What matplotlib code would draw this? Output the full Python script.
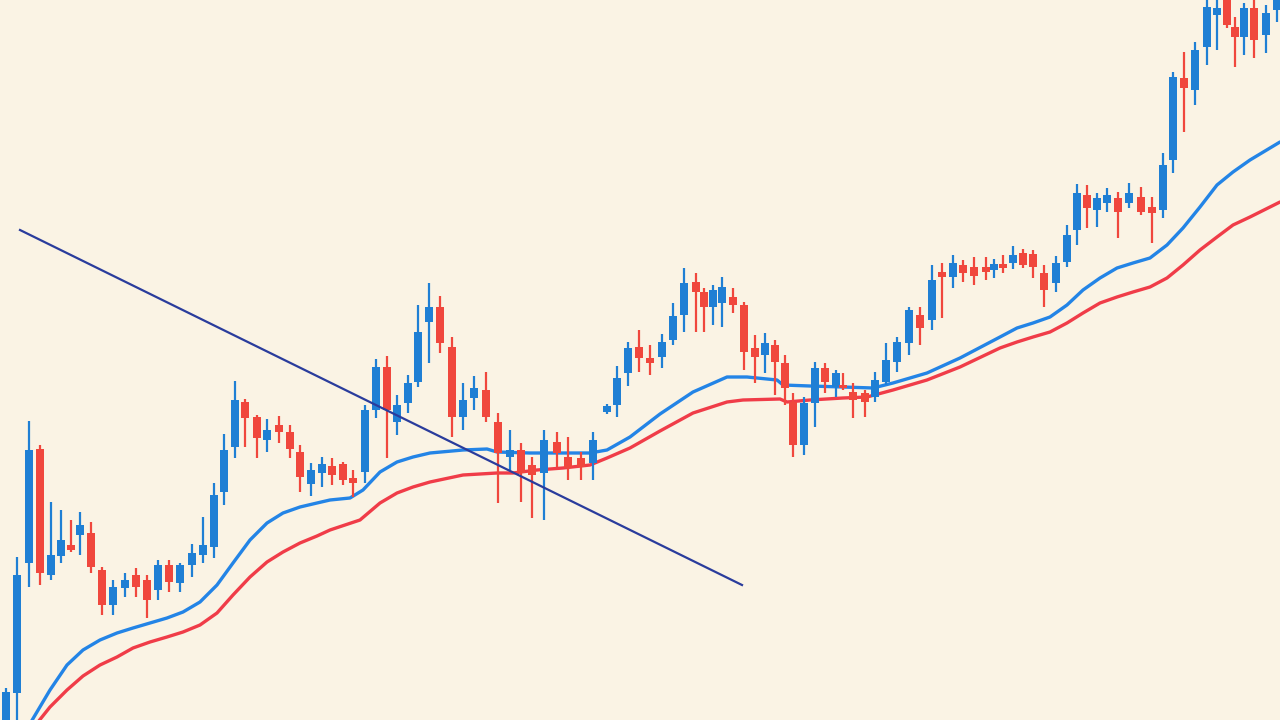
import numpy as np
import matplotlib
matplotlib.use('Agg')
import matplotlib.pyplot as plt

# candle positions (time axis) and OHLC prices
t = [6, 17, 29, 40, 51, 61, 71, 80, 91, 102, 113, 125, 136, 147, 158, 169, 180, 192, 203, 214,
     224, 235, 245, 257, 267, 279, 290, 300, 311, 322, 332, 343, 353, 365, 376, 387, 397, 408, 418, 429,
     440, 452, 463, 474, 486, 498, 510, 521, 532, 544, 557, 568, 581, 593, 607, 617, 628, 639, 650, 662,
     673, 684, 696, 704, 713, 722, 733, 744, 755, 765, 775, 785, 793, 804, 815, 825, 836, 843, 853, 865,
     875, 886, 897, 909, 920, 932, 942, 953, 963, 974, 986, 994, 1003, 1013, 1023, 1033, 1044, 1056, 1067, 1077,
     1087, 1097, 1107, 1118, 1129, 1141, 1152, 1163, 1173, 1184, 1195, 1207, 1217, 1227, 1235, 1244, 1254, 1266, 1277]
opens = [0, 27, 157, 271, 145, 164, 175, 185, 187, 150, 115, 132, 145, 140, 130, 155, 137, 155, 165, 173,
         228, 273, 318, 303, 280, 295, 288, 268, 236, 247, 254, 256, 242, 248, 310, 353, 298, 317, 338, 398,
         413, 373, 303, 322, 330, 298, 263, 270, 255, 247, 278, 263, 262, 257, 308, 315, 347, 373, 362, 363,
         380, 405, 438, 428, 413, 417, 423, 415, 372, 365, 375, 357, 318, 275, 317, 352, 333, 335, 328, 327,
         323, 338, 358, 377, 405, 400, 448, 443, 455, 453, 453, 450, 456, 457, 467, 466, 447, 437, 458, 490,
         525, 510, 517, 522, 517, 523, 513, 510, 560, 642, 630, 673, 705, 725, 693, 683, 712, 685, 710]
highs = [32, 163, 299, 275, 218, 210, 200, 208, 198, 153, 140, 147, 152, 145, 160, 160, 157, 176, 203, 237,
         286, 339, 321, 305, 301, 304, 295, 275, 257, 263, 262, 258, 250, 315, 361, 364, 325, 345, 415, 437,
         424, 383, 337, 344, 348, 307, 290, 277, 263, 290, 288, 283, 268, 288, 316, 354, 378, 390, 375, 386,
         417, 452, 447, 432, 435, 443, 432, 418, 385, 387, 380, 365, 327, 323, 358, 357, 350, 347, 337, 330,
         348, 377, 383, 413, 413, 455, 457, 465, 460, 463, 463, 461, 465, 474, 471, 470, 455, 464, 495, 536,
         535, 527, 532, 528, 537, 533, 523, 567, 648, 668, 678, 725, 725, 728, 703, 717, 722, 715, 730]
lows = [-5, 0, 133, 135, 140, 157, 168, 165, 147, 105, 105, 123, 123, 102, 120, 128, 128, 143, 157, 162,
        215, 262, 273, 262, 268, 277, 262, 228, 224, 233, 235, 235, 223, 237, 302, 262, 285, 307, 333, 357,
        367, 283, 290, 310, 298, 217, 250, 218, 202, 200, 253, 240, 240, 240, 306, 303, 334, 348, 345, 352,
        375, 388, 388, 388, 395, 393, 407, 350, 337, 347, 325, 315, 263, 265, 293, 327, 323, 330, 302, 303,
        318, 335, 348, 365, 375, 390, 402, 432, 438, 435, 440, 442, 447, 451, 452, 442, 413, 428, 453, 475,
        492, 493, 508, 482, 512, 505, 477, 502, 547, 588, 615, 655, 670, 692, 653, 665, 662, 667, 698]
closes = [28, 145, 270, 147, 165, 180, 170, 195, 153, 115, 133, 140, 133, 120, 155, 138, 155, 167, 175, 225,
          270, 320, 302, 282, 290, 288, 271, 243, 250, 256, 245, 240, 237, 310, 353, 310, 315, 337, 388, 413,
          377, 303, 320, 332, 303, 267, 270, 247, 245, 280, 267, 252, 253, 280, 314, 342, 372, 362, 357, 378,
          404, 437, 428, 413, 430, 433, 415, 368, 363, 377, 358, 332, 275, 317, 352, 338, 347, 332, 320, 318,
          340, 360, 378, 410, 392, 440, 443, 457, 447, 444, 448, 456, 452, 465, 455, 453, 430, 457, 485, 527,
          512, 522, 525, 508, 527, 508, 507, 555, 643, 632, 670, 713, 712, 695, 683, 712, 680, 707, 725]

# fast (blue) and slow (red) moving averages
ma_fast_t = [31, 50, 67, 83, 100, 117, 133, 150, 167, 183, 200, 217, 233, 250, 267, 283, 300, 317, 330, 350,
             363, 380, 397, 413, 430, 463, 487, 497, 530, 563, 590, 607, 630, 660, 693, 727, 747, 777, 783, 810,
             843, 873, 893, 927, 960, 1000, 1017, 1033, 1050, 1067, 1083, 1100, 1117, 1133, 1150, 1167, 1183,
             1200, 1217, 1233, 1250, 1280]
ma_fast = [-2, 30, 55, 70, 80, 87, 92, 97, 102, 108, 118, 135, 157, 180, 197, 207, 213, 217, 220, 222,
           230, 248, 258, 263, 267, 270, 271, 268, 267, 267, 267, 270, 283, 306, 328, 343, 343, 340, 335, 334,
           333, 332, 337, 347, 362, 383, 392, 397, 403, 415, 430, 442, 452, 457, 462, 475, 492,
           513, 535, 548, 560, 578]
ma_slow_t = [38, 50, 67, 83, 100, 117, 133, 150, 167, 183, 200, 217, 233, 250, 267, 283, 300, 317, 330, 360,
             380, 397, 413, 430, 463, 497, 513, 537, 563, 590, 607, 630, 660, 693, 727, 743, 780, 787, 810, 843,
             867, 893, 927, 960, 1000, 1017, 1033, 1050, 1067, 1083, 1100, 1117, 1133, 1150, 1167, 1183,
             1200, 1217, 1233, 1250, 1280]
ma_slow = [-2, 13, 30, 44, 55, 63, 72, 78, 83, 88, 95, 107, 125, 143, 158, 168, 177, 184, 190, 200,
           217, 227, 233, 238, 245, 247, 247, 250, 252, 255, 262, 272, 289, 307, 318, 320, 321, 318, 320, 322,
           323, 330, 340, 353, 372, 378, 383, 388, 397, 407, 417, 423, 428, 433, 442, 455,
           470, 483, 495, 503, 518]

# trend line
trend_t = [20, 742]
trend_p = [490, 135]

bg = '#faf3e4'
up_col = '#1f7fd4'
down_col = '#f0473d'

fig = plt.figure(figsize=(12.8, 7.2), dpi=100, facecolor=bg)
ax = fig.add_axes([0, 0, 1, 1])
ax.set_facecolor(bg)

ax.plot(ma_slow_t, ma_slow, color='#f03c48', lw=2.4, solid_joinstyle='round', solid_capstyle='round', zorder=2)
ax.plot(ma_fast_t, ma_fast, color='#2384e6', lw=2.4, solid_joinstyle='round', solid_capstyle='round', zorder=2)

o = np.array(opens); c = np.array(closes)
cols = [up_col if cc >= oo else down_col for oo, cc in zip(o, c)]
ax.vlines(t, lows, highs, colors=cols, lw=1.6, zorder=3)
body = np.maximum(np.abs(c - o), 3)
ax.bar(t, body, bottom=np.minimum(o, c), width=7.5, color=cols, zorder=4)

ax.plot(trend_t, trend_p, color='#2a3c9c', lw=1.6, zorder=5)

ax.set_xlim(0, 1280)
ax.set_ylim(0, 720)
ax.axis('off')

plt.savefig('out.png', dpi=100, facecolor=bg)
